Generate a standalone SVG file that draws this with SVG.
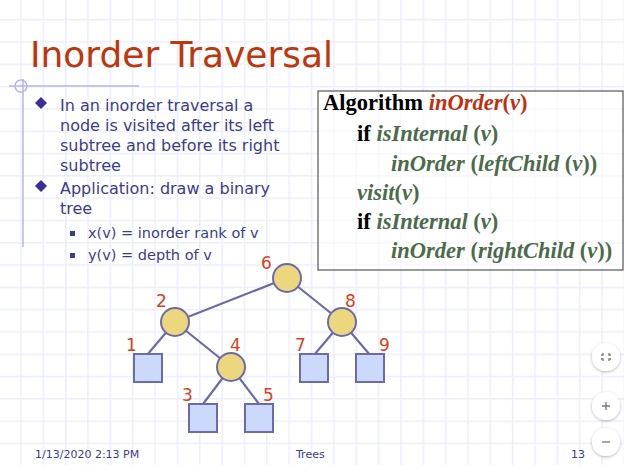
<svg xmlns="http://www.w3.org/2000/svg" width="624" height="465" viewBox="0 0 624 465">
<defs>
<pattern id="grid" x="20.2" y="19" width="22.35" height="22.3" patternUnits="userSpaceOnUse">
<path d="M0.75 0V22.3M0 0.75H22.35" stroke="#eceefb" stroke-width="1.5" fill="none"/>
</pattern>
<filter id="sh" x="-50%" y="-50%" width="200%" height="200%"><feDropShadow dx="0" dy="1" stdDeviation="1.5" flood-color="#000" flood-opacity="0.3"/></filter>
</defs>
<style>
.b{font-family:"DejaVu Sans",Verdana,sans-serif;font-size:16px;fill:#3a3d8c}
.s{font-family:"DejaVu Sans",Verdana,sans-serif;font-size:14.5px;fill:#3a3d8c}
.alg{font-family:"Liberation Serif","Times New Roman",serif;font-size:22.5px;font-weight:bold}
.g{fill:#4b6b4b;font-style:italic}
.r{fill:#c03010;font-style:italic}
.num{font-family:"DejaVu Sans",Verdana,sans-serif;font-size:17px;fill:#d8401a}
.c{fill:#ecd67e;stroke:#6a6ba8;stroke-width:2}
.q{fill:#cdd9fb;stroke:#6a6ba8;stroke-width:2}
.e{stroke:#6a6ba8;stroke-width:2.2}
.f{font-family:"DejaVu Sans",Verdana,sans-serif;font-size:11px;fill:#3a3d8c}
</style>
<rect width="624" height="465" fill="#fff"/>
<rect width="624" height="465" fill="url(#grid)"/>
<text x="30" y="67" font-family="'DejaVu Sans',Verdana,sans-serif" font-size="36" fill="#c0360c" textLength="303">Inorder Traversal</text>
<g stroke="#b4b6ea" stroke-width="1.5" fill="none">
<line x1="9" y1="86" x2="139" y2="86"/><line x1="23" y1="79" x2="23" y2="247"/><circle cx="21" cy="86" r="6"/>
</g>
<g id="bullets">
<path d="M41 97l6 6-6 6-6-6z" fill="#3a2d9c"/>
<text class="b" x="60" y="111">In an inorder traversal a</text>
<text class="b" x="60" y="131">node is visited after its left</text>
<text class="b" x="60" y="151">subtree and before its right</text>
<text class="b" x="60" y="171">subtree</text>
<path d="M41 180l6 6-6 6-6-6z" fill="#3a2d9c"/>
<text class="b" x="60" y="194">Application: draw a binary</text>
<text class="b" x="60" y="214">tree</text>
<rect x="70" y="231" width="5" height="5" fill="#3a3d8c"/>
<text class="s" x="88" y="238">x(v) = inorder rank of v</text>
<rect x="70" y="253" width="5" height="5" fill="#3a3d8c"/>
<text class="s" x="88" y="260">y(v) = depth of v</text>
</g>
<g id="algorithm">
<rect x="318" y="91" width="305" height="179" fill="#fff" fill-opacity="0.6" stroke="#555" stroke-width="1.2"/>
<text class="alg" x="323" y="110">Algorithm <tspan class="r">inOrder</tspan><tspan fill="#c03010">(</tspan><tspan class="r">v</tspan><tspan fill="#c03010">)</tspan></text>
<text class="alg" x="357" y="141">if <tspan class="g">isInternal</tspan><tspan fill="#4b6b4b"> (</tspan><tspan class="g">v</tspan><tspan fill="#4b6b4b">)</tspan></text>
<text class="alg" fill="#4b6b4b" x="391" y="171"><tspan class="g">inOrder</tspan> (<tspan class="g">leftChild</tspan> (<tspan class="g">v</tspan>))</text>
<text class="alg" fill="#4b6b4b" x="357" y="200"><tspan class="g">visit</tspan>(<tspan class="g">v</tspan>)</text>
<text class="alg" x="357" y="229">if <tspan class="g">isInternal</tspan><tspan fill="#4b6b4b"> (</tspan><tspan class="g">v</tspan><tspan fill="#4b6b4b">)</tspan></text>
<text class="alg" fill="#4b6b4b" x="391" y="258"><tspan class="g">inOrder</tspan> (<tspan class="g">rightChild</tspan> (<tspan class="g">v</tspan>))</text>
</g>
<g id="edges">
<line class="e" x1="287" y1="278" x2="175" y2="322"/>
<line class="e" x1="287" y1="278" x2="342" y2="322"/>
<line class="e" x1="175" y1="322" x2="147" y2="355"/>
<line class="e" x1="175" y1="322" x2="231" y2="367"/>
<line class="e" x1="231" y1="367" x2="203" y2="404"/>
<line class="e" x1="231" y1="367" x2="259" y2="404"/>
<line class="e" x1="342" y1="322" x2="314" y2="355"/>
<line class="e" x1="342" y1="322" x2="370" y2="355"/>
</g>
<g id="n6"><circle class="c" cx="287" cy="278" r="14"/><text class="num" x="261" y="269">6</text></g>
<g id="n2"><circle class="c" cx="175" cy="322" r="14"/><text class="num" x="156" y="307">2</text></g>
<g id="n8"><circle class="c" cx="342" cy="322" r="14"/><text class="num" x="345" y="307">8</text></g>
<g id="n4"><circle class="c" cx="231" cy="367" r="14"/><text class="num" x="230" y="351">4</text></g>
<g id="n1"><rect class="q" x="134" y="354" width="28" height="28"/><text class="num" x="126" y="351">1</text></g>
<g id="n3"><rect class="q" x="189" y="404" width="28" height="28"/><text class="num" x="182" y="401">3</text></g>
<g id="n5"><rect class="q" x="245" y="404" width="28" height="28"/><text class="num" x="263" y="401">5</text></g>
<g id="n7"><rect class="q" x="300" y="354" width="28" height="28"/><text class="num" x="295" y="351">7</text></g>
<g id="n9"><rect class="q" x="356" y="354" width="28" height="28"/><text class="num" x="379" y="351">9</text></g>
<text class="f" x="35" y="458">1/13/2020 2:13 PM</text>
<text class="f" x="296" y="458">Trees</text>
<text class="f" x="571" y="458">13</text>
<g id="buttons" fill="#fff" filter="url(#sh)">
<circle cx="606" cy="357" r="14"/><circle cx="606" cy="406" r="14"/><circle cx="606" cy="442" r="14"/>
</g>
<g stroke="#777" stroke-width="1.3" fill="none">
<path d="M603 353v2h-2M609 353v2h2M603 361v-2h-2M609 361v-2h2"/>
<path d="M606 402v8M602 406h8"/><path d="M602 442h8"/>
</g>
</svg>
